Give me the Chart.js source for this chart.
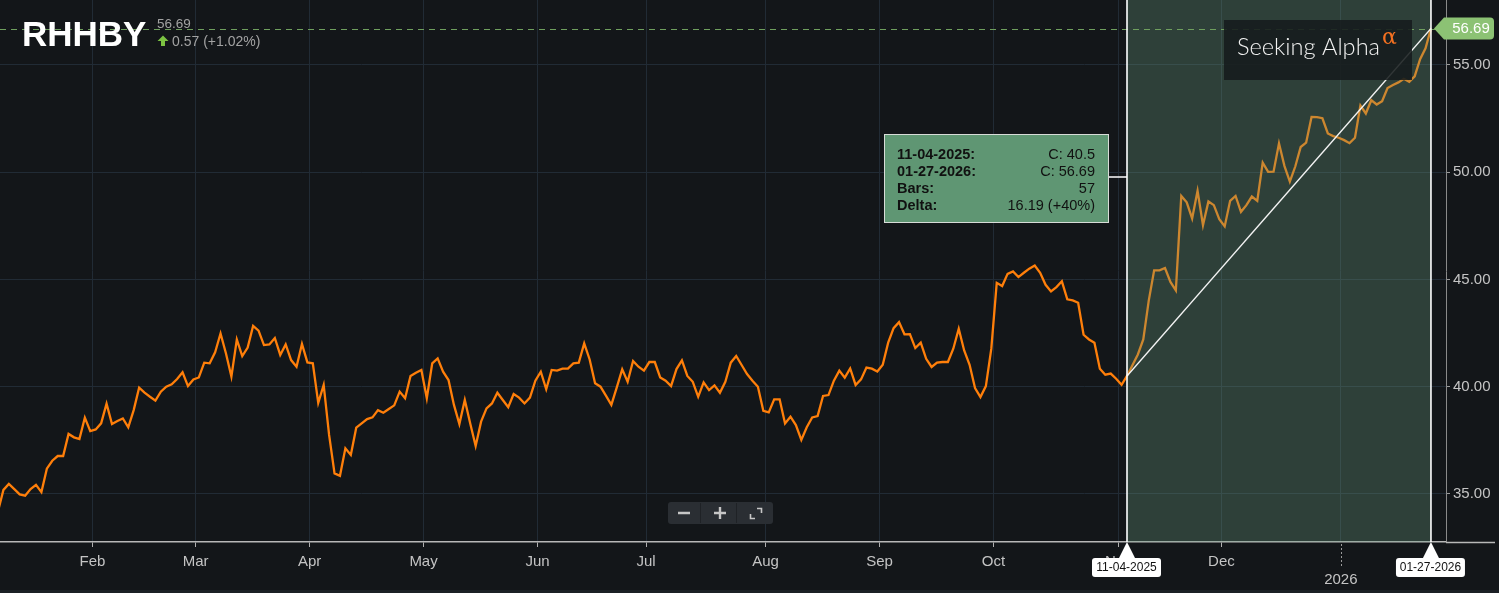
<!DOCTYPE html>
<html>
<head>
<meta charset="utf-8">
<title>RHHBY</title>
<script src="https://cdn.jsdelivr.net/npm/chart.js@4.4.1/dist/chart.umd.min.js"></script>
<style>
  html, body { margin: 0; padding: 0; background: #131619; overflow: hidden; }
  #wrap { position: relative; width: 1499px; height: 593px; }
</style>
</head>
<body>
<div id="wrap"><canvas id="priceChart" width="1499" height="593"></canvas></div>
<script>
// daily closes, one per trading day, 6 Jan 2025 .. 27 Jan 2026
const closes = [
  34.2, 35.19, 35.47, 35.23, 34.98, 34.92, 35.23, 35.43, 35.09, 36.18,
  36.55, 36.77, 36.77, 37.80, 37.64, 37.56, 38.56, 37.93, 38.01, 38.29,
  39.21, 38.26, 38.40, 38.52, 38.11, 38.91, 39.95, 39.72, 39.53, 39.35,
  39.77, 40.00, 40.11, 40.36, 40.67, 40.03, 40.34, 40.43, 41.12, 41.09,
  41.60, 42.48, 41.55, 40.47, 42.20, 41.43, 41.82, 42.83, 42.61, 41.94,
  41.97, 42.27, 41.48, 41.97, 41.24, 40.93, 41.99, 41.13, 41.09, 39.25,
  40.08, 37.75, 35.96, 35.85, 37.13, 36.82, 38.09, 38.29, 38.49, 38.57,
  38.91, 38.79, 38.96, 39.13, 39.77, 39.46, 40.50, 40.65, 40.78, 39.46,
  41.09, 41.32, 40.70, 40.31, 39.15, 38.26, 39.38, 38.29, 37.24, 38.37,
  38.99, 39.22, 39.72, 39.38, 39.04, 39.66, 39.49, 39.22, 39.49, 40.28,
  40.70, 39.88, 40.78, 40.75, 40.84, 40.84, 41.09, 41.12, 42.02, 41.27,
  40.16, 40.00, 39.58, 39.15, 39.97, 40.81, 40.23, 41.20, 40.93, 40.75,
  41.15, 41.15, 40.43, 40.28, 40.03, 40.82, 41.23, 40.50, 40.23, 39.53,
  40.20, 39.84, 40.06, 39.72, 40.23, 41.12, 41.43, 41.01, 40.59, 40.28,
  40.00, 38.88, 38.80, 39.41, 39.41, 38.29, 38.60, 38.21, 37.52, 38.11,
  38.57, 38.63, 39.57, 39.61, 40.28, 40.75, 40.42, 40.85, 40.08, 40.34,
  40.89, 40.84, 40.71, 41.02, 42.05, 42.73, 43.01, 42.44, 42.45, 41.80,
  42.05, 41.30, 40.92, 41.12, 41.15, 41.15, 41.77, 42.70, 41.69, 41.02,
  39.94, 39.52, 40.03, 41.77, 44.84, 44.69, 45.26, 45.37, 45.11, 45.31,
  45.50, 45.65, 45.31, 44.75, 44.44, 44.64, 44.91, 44.07, 44.02, 43.91,
  42.42, 42.20, 42.05, 40.84, 40.56, 40.61, 40.37, 40.09, 40.50, 41.00,
  41.50, 42.20, 44.00, 45.42, 45.42, 45.53, 44.88, 44.49, 48.89, 48.59,
  47.84, 49.13, 47.53, 48.63, 48.46, 47.81, 47.47, 48.66, 48.89, 48.15,
  48.46, 48.86, 48.66, 50.44, 50.01, 50.02, 51.34, 50.29, 49.56, 50.26,
  51.17, 51.37, 52.57, 52.56, 52.51, 51.80, 51.68, 51.60, 51.49, 51.35,
  51.60, 53.10, 52.73, 53.35, 53.15, 53.30, 53.92, 54.06, 54.18, 54.35,
  54.21, 54.46, 55.26, 55.77, 56.69
];

// first trading day of each month (bar index) and its label
const monthStartBars = [18, 37, 58, 79, 100, 120, 142, 163, 184, 207, 226, 248];
const monthLabels = ['Feb', 'Mar', 'Apr', 'May', 'Jun', 'Jul', 'Aug', 'Sep', 'Oct', 'Nov', 'Dec', '2026'];
const yTickValues = [35, 40, 45, 50, 55];

// measure tool: start / end bar and their dates
const measureBars = [208, 264];
const measureDates = ['11-04-2025', '01-27-2026'];

const ticker = 'RHHBY';
const dayChange = '0.57 (+1.02%)';

const FONT = "'Liberation Sans', Arial, Helvetica, sans-serif";
const gridColor = '#212b35';
const labelColor = '#c4c4c4';
const lastClose = closes[closes.length - 1];

function roundRect(ctx, x, y, w, h, r) {
    ctx.beginPath();
    ctx.moveTo(x + r, y);
    ctx.lineTo(x + w - r, y);
    ctx.quadraticCurveTo(x + w, y, x + w, y + r);
    ctx.lineTo(x + w, y + h - r);
    ctx.quadraticCurveTo(x + w, y + h, x + w - r, y + h);
    ctx.lineTo(x + r, y + h);
    ctx.quadraticCurveTo(x, y + h, x, y + h - r);
    ctx.lineTo(x, y + r);
    ctx.quadraticCurveTo(x, y, x + r, y);
    ctx.closePath();
}

// shaded measure zone + last price dashed line, drawn right after the price line
const shadePlugin = {
    id: 'shade',
    afterDatasetDraw(chart, args) {
        if (args.index !== 0) return;
        const ctx = chart.ctx;
        const area = chart.chartArea;
        const xs = chart.scales.x, ys = chart.scales.y;
        const x1 = xs.getPixelForValue(measureBars[0]);
        const x2 = xs.getPixelForValue(measureBars[1]);
        ctx.save();
        ctx.fillStyle = 'rgba(102,153,125,0.33)';
        ctx.fillRect(x1, area.top, x2 - x1, area.bottom - area.top);

        // last price dashed line
        const yl = Math.round(ys.getPixelForValue(lastClose)) + 0.5;
        ctx.strokeStyle = '#6f9f5e';
        ctx.lineWidth = 1;
        ctx.setLineDash([6, 5]);
        ctx.beginPath();
        ctx.moveTo(area.left, yl);
        ctx.lineTo(area.right - 10, yl);
        ctx.stroke();
        ctx.restore();
    }
};

const overlayPlugin = {
    id: 'overlay',
    afterDraw(chart) {
        const ctx = chart.ctx;
        const area = chart.chartArea;
        const xs = chart.scales.x, ys = chart.scales.y;
        const x1 = xs.getPixelForValue(measureBars[0]);
        const x2 = xs.getPixelForValue(measureBars[1]);
        ctx.save();

        // vertical measure lines
        ctx.strokeStyle = '#ffffff';
        ctx.lineWidth = 1.6;
        [x1, x2].forEach(x => {
            ctx.beginPath();
            ctx.moveTo(x, area.top);
            ctx.lineTo(x, area.bottom);
            ctx.stroke();
        });

        // x axis line continues under the price scale
        ctx.strokeStyle = '#b8b8b8';
        ctx.lineWidth = 1.5;
        ctx.beginPath();
        ctx.moveTo(area.right, area.bottom + 0.5);
        ctx.lineTo(1495, area.bottom + 0.5);
        ctx.stroke();

        // dotted year tick
        const yearX = xs.getPixelForValue(monthStartBars[monthStartBars.length - 1] - 0.6);
        ctx.strokeStyle = '#9a9a9a';
        ctx.lineWidth = 1;
        ctx.setLineDash([2, 2]);
        ctx.beginPath();
        ctx.moveTo(Math.round(yearX) + 0.5, area.bottom + 2);
        ctx.lineTo(Math.round(yearX) + 0.5, area.bottom + 24);
        ctx.stroke();
        ctx.setLineDash([]);

        // measure info box
        const c0 = closes[measureBars[0]], c1 = closes[measureBars[1]];
        const delta = c1 - c0;
        const rows = [
            [measureDates[0] + ':', 'C: ' + c0],
            [measureDates[1] + ':', 'C: ' + c1],
            ['Bars:', String(measureBars[1] - measureBars[0] + 1)],
            ['Delta:', delta.toFixed(2) + ' (+' + Math.round(delta / c0 * 100) + '%)']
        ];
        const bx = 884.5, by = 134.5, bw = 224, bh = 88;
        ctx.strokeStyle = '#ffffff';
        ctx.lineWidth = 1.5;
        ctx.beginPath();
        ctx.moveTo(bx + bw, 177);
        ctx.lineTo(x1, 177);
        ctx.stroke();
        ctx.fillStyle = '#5f9673';
        ctx.fillRect(bx, by, bw, bh);
        ctx.strokeStyle = '#d8dcd8';
        ctx.lineWidth = 1;
        ctx.strokeRect(bx, by, bw, bh);
        ctx.fillStyle = '#111111';
        ctx.textBaseline = 'middle';
        rows.forEach((r, i) => {
            const ty = 154.5 + i * 17.3;
            ctx.font = 'bold 14.5px ' + FONT;
            ctx.textAlign = 'left';
            ctx.fillText(r[0], 897, ty);
            ctx.font = '14.5px ' + FONT;
            ctx.textAlign = 'right';
            ctx.fillText(r[1], 1095, ty);
        });

        // Seeking Alpha watermark
        ctx.fillStyle = 'rgba(22,27,28,0.88)';
        ctx.fillRect(1224, 20, 188, 60);
        ctx.fillStyle = '#f2f2f2';
        ctx.textAlign = 'left';
        ctx.textBaseline = 'alphabetic';
        ctx.font = '300 22px Lato, "Open Sans", sans-serif';
        const saW = ctx.measureText('Seeking Alpha').width;
        const saSize = 22 * 143 / saW;
        ctx.font = '300 ' + saSize.toFixed(1) + 'px Lato, "Open Sans", sans-serif';
        ctx.fillText('Seeking Alpha', 1237, 55);
        ctx.fillStyle = '#f37021';
        ctx.font = '22px "DejaVu Serif", serif';
        ctx.fillText('\u03b1', 1382, 44);

        // last price tag
        const yl = ys.getPixelForValue(lastClose);
        ctx.fillStyle = '#8cc274';
        ctx.beginPath();
        ctx.moveTo(1434, yl);
        ctx.lineTo(1444, yl - 11);
        ctx.lineTo(1490, yl - 11);
        ctx.quadraticCurveTo(1494, yl - 11, 1494, yl - 7);
        ctx.lineTo(1494, yl + 7);
        ctx.quadraticCurveTo(1494, yl + 11, 1490, yl + 11);
        ctx.lineTo(1444, yl + 11);
        ctx.closePath();
        ctx.fill();
        ctx.fillStyle = '#ffffff';
        ctx.font = '15px ' + FONT;
        ctx.textAlign = 'center';
        ctx.textBaseline = 'middle';
        ctx.fillText(lastClose.toFixed(2), 1471, yl + 0.5);

        // date markers on the time axis
        [x1, x2].forEach((x, i) => {
            ctx.fillStyle = '#ffffff';
            ctx.beginPath();
            ctx.moveTo(x, area.bottom);
            ctx.lineTo(x + 8, area.bottom + 16);
            ctx.lineTo(x - 8, area.bottom + 16);
            ctx.closePath();
            ctx.fill();
            roundRect(ctx, x - 35, 558, 69, 19, 3);
            ctx.fill();
            ctx.fillStyle = '#111111';
            ctx.font = '12px ' + FONT;
            ctx.fillText(measureDates[i], x - 0.5, 568);
        });

        // header
        ctx.textAlign = 'left';
        ctx.textBaseline = 'alphabetic';
        ctx.fillStyle = '#ffffff';
        ctx.font = 'bold 35px ' + FONT;
        ctx.fillText(ticker, 22, 46);
        ctx.fillStyle = '#a3a3a3';
        ctx.font = '13.5px ' + FONT;
        ctx.fillText(lastClose.toFixed(2), 157, 28);
        ctx.font = '14px ' + FONT;
        ctx.fillText(dayChange, 172, 45.5);
        ctx.fillStyle = '#7cc242';
        ctx.beginPath();
        ctx.moveTo(163, 35.5);
        ctx.lineTo(168.5, 41);
        ctx.lineTo(165, 41);
        ctx.lineTo(165, 46);
        ctx.lineTo(161, 46);
        ctx.lineTo(161, 41);
        ctx.lineTo(157.5, 41);
        ctx.closePath();
        ctx.fill();

        // zoom buttons
        roundRect(ctx, 668, 502, 105, 22, 3);
        ctx.fillStyle = '#2a2e33';
        ctx.fill();
        ctx.strokeStyle = '#1f2226';
        ctx.lineWidth = 1;
        [700.5, 736.5].forEach(x => {
            ctx.beginPath();
            ctx.moveTo(x, 503);
            ctx.lineTo(x, 523);
            ctx.stroke();
        });
        ctx.strokeStyle = '#c6c6c6';
        ctx.lineWidth = 2.4;
        ctx.beginPath();
        ctx.moveTo(678, 513); ctx.lineTo(690, 513);
        ctx.moveTo(714, 513); ctx.lineTo(726, 513);
        ctx.moveTo(720, 507); ctx.lineTo(720, 519);
        ctx.stroke();
        ctx.lineWidth = 1.6;
        ctx.beginPath();
        ctx.moveTo(757, 508.5); ctx.lineTo(761.5, 508.5); ctx.lineTo(761.5, 513);
        ctx.moveTo(750.5, 514); ctx.lineTo(750.5, 518.5); ctx.lineTo(755, 518.5);
        ctx.stroke();

        // bottom strip
        ctx.fillStyle = '#1b2025';
        ctx.fillRect(0, 590, 1499, 3);
        ctx.restore();
    }
};

const yearTickValue = monthStartBars[monthStartBars.length - 1] - 0.6;

const ctx = document.getElementById('priceChart').getContext('2d');
const priceChart = new Chart(ctx, {
    type: 'line',
    data: {
        datasets: [{
            label: ticker,
            data: closes.map((v, i) => ({ x: i, y: v })),
            borderColor: '#ff7f0a',
            borderWidth: 2.3,
            pointRadius: 0,
            tension: 0,
            order: 1
        }, {
            label: 'measure',
            data: measureBars.map(b => ({ x: b, y: closes[b] })),
            borderColor: '#f4f4f4',
            borderWidth: 1.3,
            pointRadius: 0,
            order: 0
        }]
    },
    options: {
        responsive: false,
        animation: false,
        devicePixelRatio: 1,
        layout: { padding: 0 },
        plugins: {
            legend: { display: false },
            tooltip: { enabled: false }
        },
        scales: {
            x: {
                type: 'linear',
                min: 0.3685,
                max: 266.77,
                afterBuildTicks: scale => {
                    scale.ticks = monthStartBars.map(b => ({ value: b - 0.6 }));
                },
                afterFit: scale => {
                    scale.height = 51;
                    scale.paddingLeft = 0;
                    scale.paddingRight = 0;
                },
                grid: {
                    color: gridColor,
                    tickLength: 5,
                    tickColor: c => (c.tick && Math.abs(c.tick.value - yearTickValue) < 0.01) ? 'rgba(0,0,0,0)' : '#b0b0b0'
                },
                border: { color: '#b8b8b8', width: 1.5 },
                ticks: {
                    color: labelColor,
                    font: { family: FONT, size: 15, lineHeight: 1.2 },
                    padding: 6,
                    autoSkip: false,
                    maxRotation: 0,
                    minRotation: 0,
                    callback: (value, index) => {
                        const lab = monthLabels[index];
                        return /^\d{4}$/.test(lab) ? ['', lab] : lab;
                    }
                }
            },
            y: {
                position: 'right',
                min: 32.763,
                max: 58.02,
                afterBuildTicks: scale => {
                    scale.ticks = yTickValues.map(v => ({ value: v }));
                },
                afterFit: scale => {
                    scale.width = 53;
                    scale.paddingTop = 0;
                    scale.paddingBottom = 0;
                },
                grid: { color: gridColor, tickLength: 4, tickColor: '#9a9a9a' },
                border: { color: '#8a8a8a', width: 1 },
                ticks: {
                    color: labelColor,
                    font: { family: FONT, size: 15 },
                    padding: 3,
                    callback: v => Number(v).toFixed(2)
                }
            }
        }
    },
    plugins: [shadePlugin, overlayPlugin]
});
</script>
</body>
</html>
